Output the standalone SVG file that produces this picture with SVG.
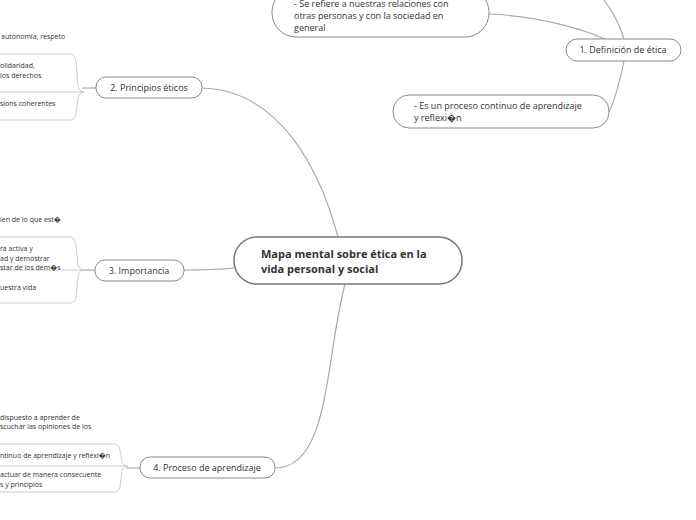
<svg xmlns="http://www.w3.org/2000/svg" width="696" height="520" viewBox="0 0 696 520">
<style>
.n{fill:#fff;stroke:#8a8a8a;stroke-width:1}
.c{fill:#fff;stroke:#777;stroke-width:1.5}
.l{fill:none;stroke:#aaa;stroke-width:1.2}
.b{fill:none;stroke:#ccc;stroke-width:1}
text{font-family:"Open Sans","Noto Sans","Liberation Sans",sans-serif;fill:#333}
.t{font-size:9px}
.s{font-size:7px}
.m{font-size:11px;font-weight:bold}
</style>
<rect width="696" height="520" fill="#fff"/>
<g id="connectors">
<path class="l" d="M338,237 C320,170 280,90 202,88"/>
<path class="l" d="M345,284 C325,360 330,468 275,468"/>
<path class="l" d="M234,268 C215,270 200,270 184,270"/>
<path class="l" d="M604,0 C615,15 620,25 624,39"/>
<path class="l" d="M489,14 C540,16 585,30 605,39"/>
<path class="l" d="M624,61 C620,80 615,100 609,112"/>
<path class="l" d="M96,88 H82"/>
<path class="l" d="M95,270 H82"/>
<path class="l" d="M140,468 H126"/>
</g>
<g id="central"><rect class="c" x="234" y="237" width="228" height="47" rx="23"/><text class="m" x="261" y="258">Mapa mental sobre ética en la</text><text class="m" x="261" y="273">vida personal y social</text></g>
<g id="n1"><rect class="n" x="566" y="39" width="115" height="22" rx="11"/><text class="t" x="623" y="53" text-anchor="middle">1. Definición de ética</text></g>
<g id="n1a"><rect class="n" x="272" y="-12" width="217" height="49" rx="24"/><text class="t" x="294" y="7">- Se refiere a nuestras relaciones con</text><text class="t" x="294" y="19">otras personas y con la sociedad en</text><text class="t" x="294" y="31">general</text></g>
<g id="n1b"><rect class="n" x="393" y="95" width="216" height="33" rx="16"/><text class="t" x="414" y="109">- Es un proceso continuo de aprendizaje</text><text class="t" x="414" y="121">y reflexi�n</text></g>
<g id="n2"><rect class="n" x="96" y="77" width="106" height="21" rx="10"/><text class="t" x="149" y="91" text-anchor="middle">2. Principios éticos</text></g>
<g id="n2leaves">
<text class="s" x="1" y="39">autonomia, respeto</text>
<path class="b" d="M0,54 H70 Q75,54 76,62 L78,86 Q79,92 84,92 M0,92 H84 Q79,92 78,98 L76,114 Q75,120 70,120 H0"/>
<text class="s" x="0" y="68">olidaridad,</text><text class="s" x="0" y="78">los derechos</text>
<text class="s" x="0" y="106">sions coherentes</text>
</g>
<g id="n3"><rect class="n" x="95" y="260" width="89" height="21" rx="10"/><text class="t" x="139" y="274" text-anchor="middle">3. Importancia</text></g>
<g id="n3leaves">
<text class="s" x="0" y="222">ien de lo que est�</text>
<path class="b" d="M0,237 H70 Q75,237 76,245 L78,264 Q79,270 84,270 M0,270 H84 Q79,270 78,276 L76,297 Q75,303 70,303 H0"/>
<text class="s" x="0" y="251">ra activa y</text><text class="s" x="0" y="261">ad y demostrar</text><text class="s" x="0" y="270">star de los dem�s</text>
<text class="s" x="0" y="290">uestra vida</text>
</g>
<g id="n4"><rect class="n" x="140" y="457" width="135" height="21" rx="10"/><text class="t" x="207" y="471" text-anchor="middle">4. Proceso de aprendizaje</text></g>
<g id="n4leaves">
<text class="s" x="0" y="420">dispuesto a aprender de</text><text class="s" x="0" y="429">scuchar las opiniones de los</text>
<path class="b" d="M0,444 H114 Q119,444 120,450 L122,462 Q123,466 128,466 M0,466 H128 Q123,466 122,471 L120,487 Q119,492 114,492 H0"/>
<text class="s" x="0" y="458">ntinuo de aprendizaje y reflexi�n</text>
<text class="s" x="0" y="477">actuar de manera consecuente</text><text class="s" x="0" y="487">s y principios</text>
</g>
</svg>
